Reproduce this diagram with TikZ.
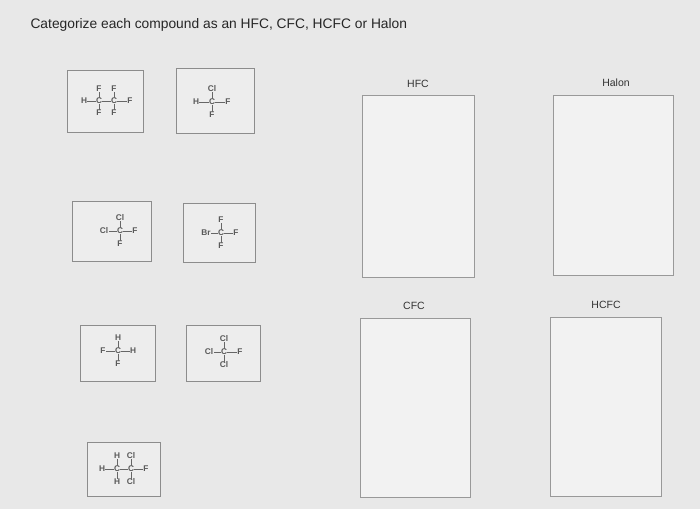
\documentclass[tikz,border=0pt]{standalone}
\usepackage{fontspec}
\setmainfont{Liberation Sans}
\begin{document}
\begin{tikzpicture}[x=1pt,y=-1pt,
  atom/.style={font=\fontsize{8.3}{9}\selectfont\bfseries, text=black!65, inner sep=0.2pt},
  bond/.style={draw=black!60, line width=0.7pt},
  mbox/.style={draw=black!45, line width=0.8pt, fill=white!93!black},
  tbox/.style={draw=black!40, line width=0.9pt, fill=white!95!black},
  lab/.style={font=\fontsize{10.5}{12}\selectfont, text=black!80}]
\fill[white!91!black] (0,0) rectangle (700,509);
\useasboundingbox (0,0) rectangle (700,509);
\node[anchor=west, font=\fontsize{13.8}{16}\selectfont, text=black!85] (title) at (27,25) {Categorize each compound as an HFC, CFC, HCFC or Halon};
% compound boxes
\node[mbox, minimum width=76, minimum height=62] (b1) at (105,101) {};
\node[mbox, minimum width=78, minimum height=65] (b2) at (215,100.5) {};
\node[mbox, minimum width=79, minimum height=60] (b3) at (111.5,231) {};
\node[mbox, minimum width=72, minimum height=59] (b4) at (219,232.5) {};
\node[mbox, minimum width=75, minimum height=56] (b5) at (117.5,353) {};
\node[mbox, minimum width=74, minimum height=56] (b6) at (223,353) {};
\node[mbox, minimum width=73, minimum height=54] (b7) at (123.5,469) {};
% target boxes
\node[tbox, minimum width=112, minimum height=182] (hfc) at (418,186) {};
\node[tbox, minimum width=120, minimum height=180] (halon) at (613,185) {};
\node[tbox, minimum width=110, minimum height=179] (cfc) at (415,407.5) {};
\node[tbox, minimum width=111, minimum height=179] (hcfc) at (605.5,406.5) {};
\node[lab] (lhfc) at (418,84) {HFC};
\node[lab] (lhalon) at (616,83) {Halon};
\node[lab] (lcfc) at (414,306) {CFC};
\node[lab] (lhcfc) at (606,305) {HCFC};
% molecule 1
\node[atom] (a1) at (99,101) {C}; \node[atom] (a2) at (114,101) {C};
\node[atom] (a1l) at (84,101) {H}; \node[atom] (a2r) at (130,101) {F};
\node[atom] (a1u) at (99,89) {F}; \node[atom] (a1d) at (99,113) {F};
\node[atom] (a2u) at (114,89) {F}; \node[atom] (a2d) at (114,113) {F};
\foreach \p/\q in {a1/a2,a1/a1l,a2/a2r,a1/a1u,a1/a1d,a2/a2u,a2/a2d} \draw[bond] (\p) -- (\q);
% molecule 2
\node[atom] (c2) at (212,102) {C}; \node[atom] (c2u) at (212,89) {Cl};
\node[atom] (c2l) at (196,102) {H}; \node[atom] (c2r) at (228,102) {F}; \node[atom] (c2d) at (212,115) {F};
\foreach \q in {c2u,c2l,c2r,c2d} \draw[bond] (c2) -- (\q);
% molecule 3
\node[atom] (c3) at (120,231) {C}; \node[atom] (c3u) at (120,218) {Cl};
\node[atom] (c3l) at (104,231) {Cl}; \node[atom] (c3r) at (135,231) {F}; \node[atom] (c3d) at (120,244) {F};
\foreach \q in {c3u,c3l,c3r,c3d} \draw[bond] (c3) -- (\q);
% molecule 4
\node[atom] (c4) at (221,233) {C}; \node[atom] (c4u) at (221,220) {F};
\node[atom] (c4l) at (206,233) {Br}; \node[atom] (c4r) at (236,233) {F}; \node[atom] (c4d) at (221,246) {F};
\foreach \q in {c4u,c4l,c4r,c4d} \draw[bond] (c4) -- (\q);
% molecule 5
\node[atom] (c5) at (118,351) {C}; \node[atom] (c5u) at (118,338) {H};
\node[atom] (c5l) at (103,351) {F}; \node[atom] (c5r) at (133,351) {H}; \node[atom] (c5d) at (118,364) {F};
\foreach \q in {c5u,c5l,c5r,c5d} \draw[bond] (c5) -- (\q);
% molecule 6
\node[atom] (c6) at (224,352) {C}; \node[atom] (c6u) at (224,339) {Cl};
\node[atom] (c6l) at (209,352) {Cl}; \node[atom] (c6r) at (240,352) {F}; \node[atom] (c6d) at (224,365) {Cl};
\foreach \q in {c6u,c6l,c6r,c6d} \draw[bond] (c6) -- (\q);
% molecule 7
\node[atom] (e1) at (117,469) {C}; \node[atom] (e2) at (131,469) {C};
\node[atom] (e1l) at (102,469) {H}; \node[atom] (e2r) at (146,469) {F};
\node[atom] (e1u) at (117,456) {H}; \node[atom] (e1d) at (117,482) {H};
\node[atom] (e2u) at (131,456) {Cl}; \node[atom] (e2d) at (131,482) {Cl};
\foreach \p/\q in {e1/e2,e1/e1l,e2/e2r,e1/e1u,e1/e1d,e2/e2u,e2/e2d} \draw[bond] (\p) -- (\q);
\end{tikzpicture}
\end{document}
